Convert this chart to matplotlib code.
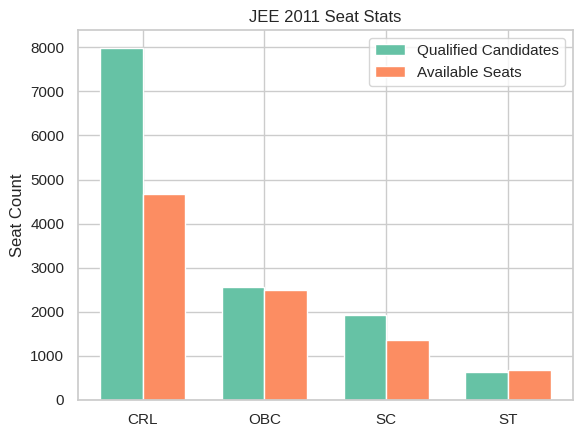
import numpy as np
import matplotlib
matplotlib.use("Agg")
import matplotlib.pyplot as plt
import seaborn as sns

categories = ["CRL", "OBC", "SC", "ST"]
qualified = [7990, 2560, 1930, 640]
available = [4680, 2500, 1360, 680]

sns.set_theme(style="whitegrid")
plt.rcParams['font.family'] = ['Liberation Sans', 'DejaVu Sans']
colors = sns.color_palette("Set2")

fig, ax = plt.subplots(figsize=(5.83, 4.37), dpi=100)
fig.subplots_adjust(left=0.133, right=0.983, top=0.931, bottom=0.085)

x = np.arange(len(categories))
width = 0.35
ax.bar(x - width / 2, qualified, width, color=colors[0], label="Qualified Candidates")
ax.bar(x + width / 2, available, width, color=colors[1], label="Available Seats")

ax.set_xticks(x)
ax.set_xticklabels(categories)
ax.set_ylabel("Seat Count")
ax.set_title("JEE 2011 Seat Stats")
ax.legend()

fig.savefig("out.png", dpi=100)
